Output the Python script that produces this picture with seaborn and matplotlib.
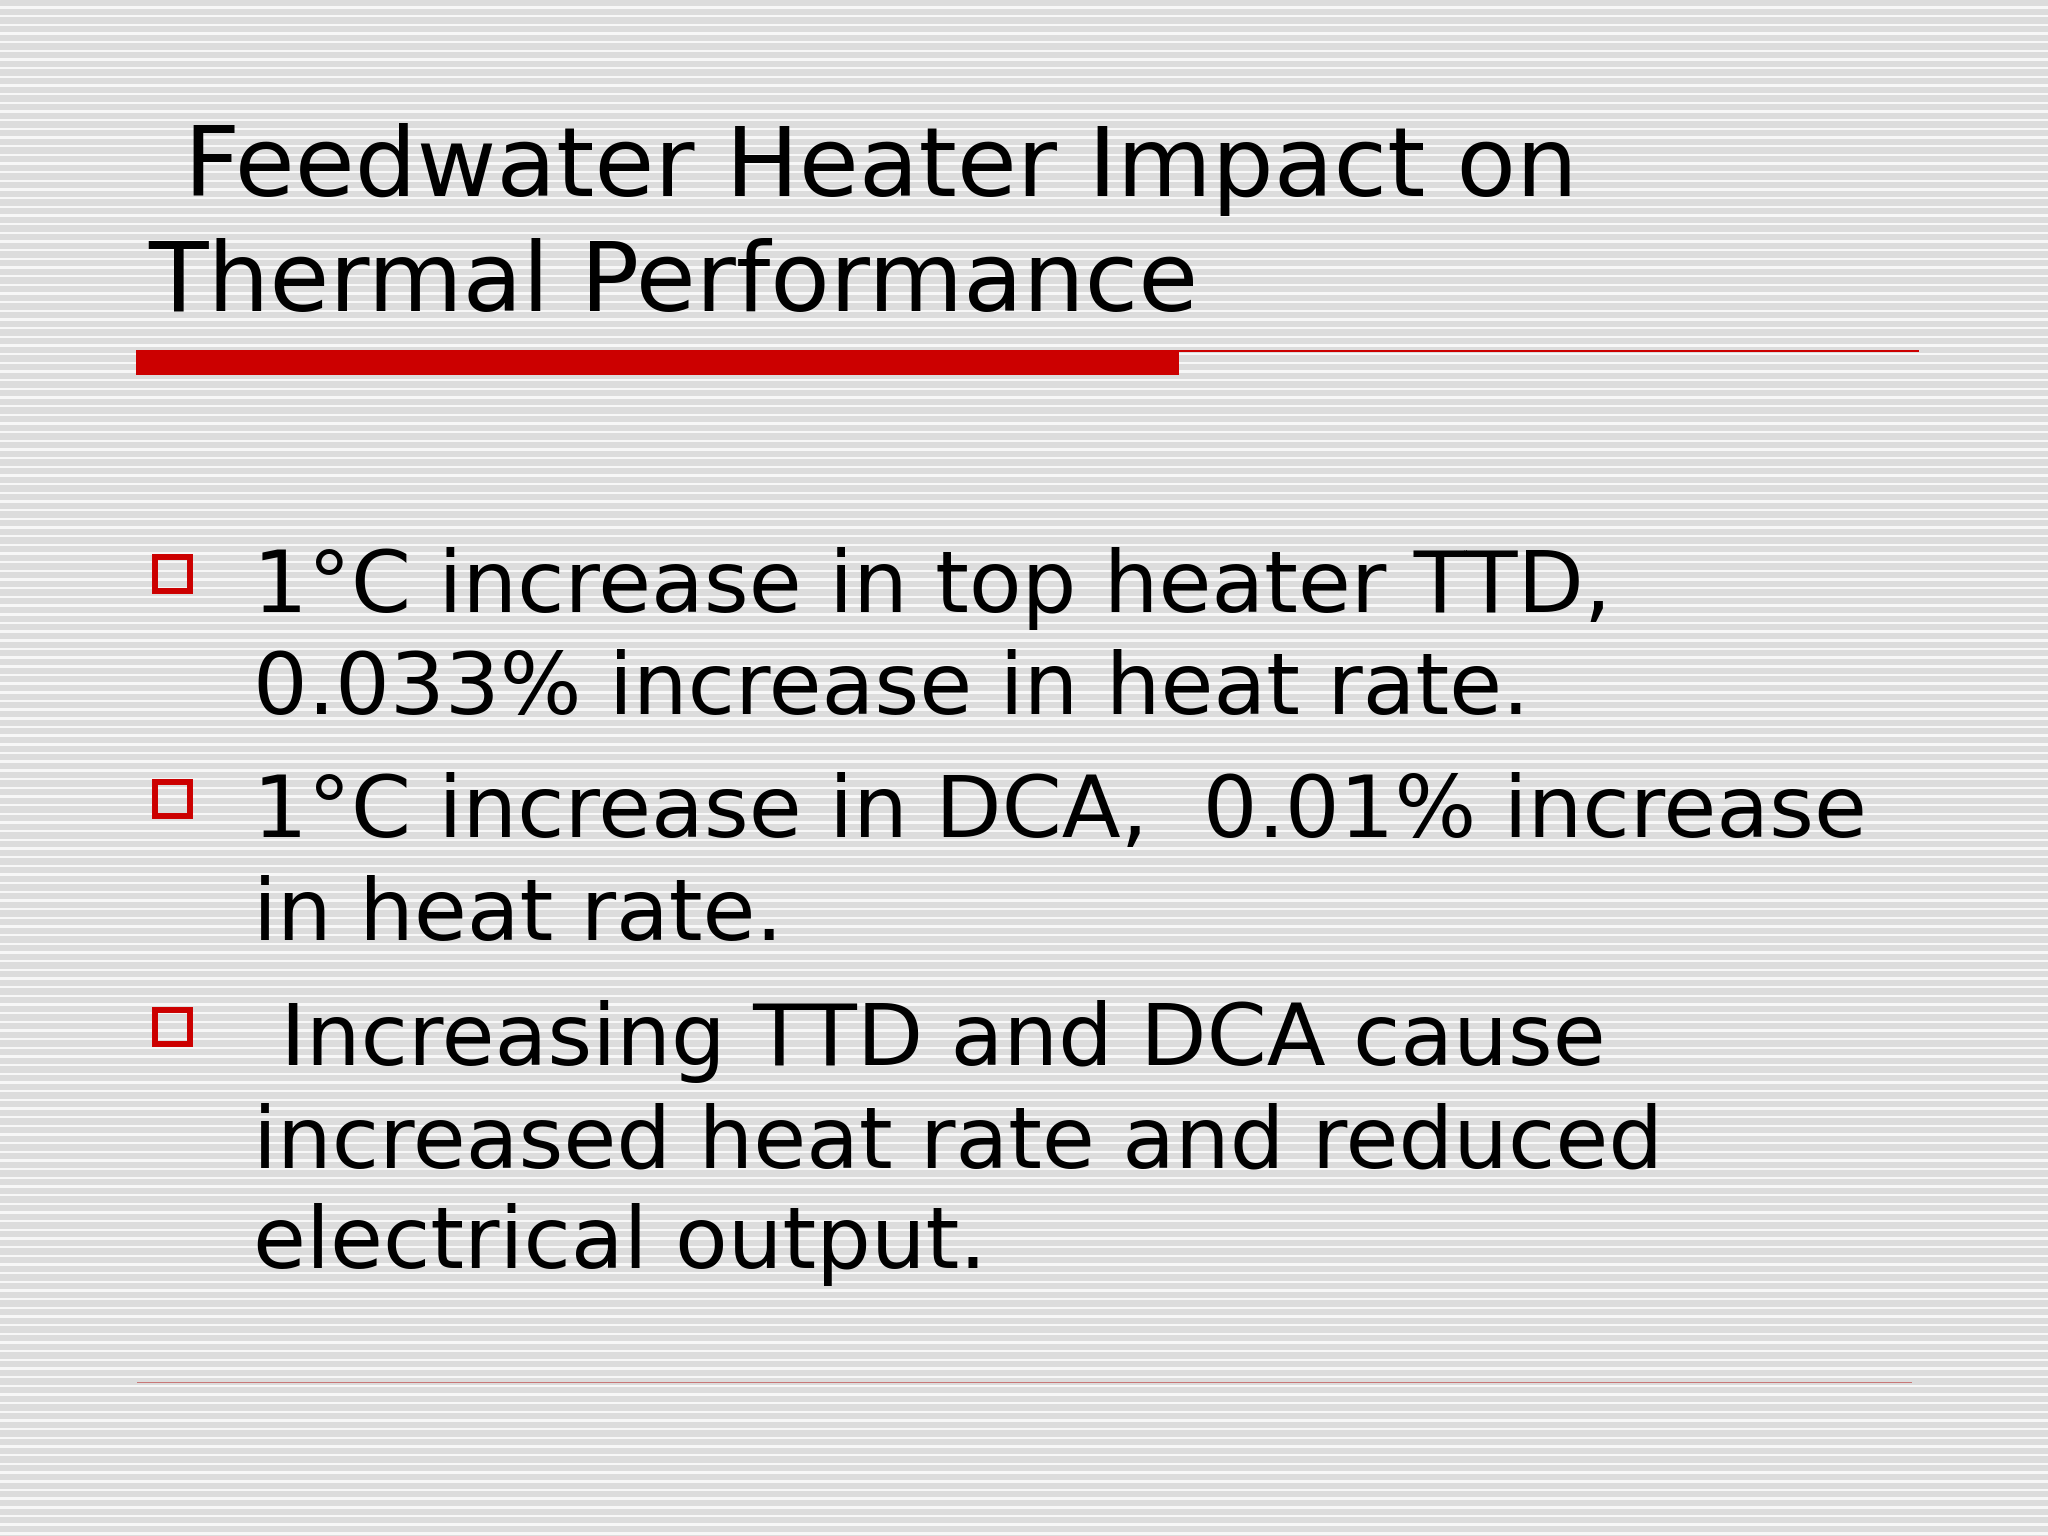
import numpy as np
import seaborn as sns
import matplotlib.pyplot as plt
from matplotlib.patches import Rectangle

# slide content
title_lines = [" Feedwater Heater Impact on", "Thermal Performance"]
title_x = [153, 148]
title_baselines = [196, 311]

bullets = [
    ["1°C increase in top heater TTD,", "0.033% increase in heat rate."],
    ["1°C increase in DCA,  0.01% increase", "in heat rate."],
    [" Increasing TTD and DCA cause", "increased heat rate and reduced", "electrical output."],
]
bullet_baselines = [[612, 714], [837, 940], [1065, 1167, 1268]]

RED = "#CC0000"
W, H = 2048, 1536

sns.set_theme(style="white")
plt.rcParams["font.family"] = ["DejaVu Sans"]

fig = plt.figure(figsize=(W / 100, H / 100), dpi=100)
ax = fig.add_axes([0, 0, 1, 1])
ax.set_xlim(0, W)
ax.set_ylim(H, 0)
ax.axis("off")

# striped background
ax.add_patch(Rectangle((0, 0), W, H, color="#DCDCDC", zorder=0))
for y in np.arange(6.2, H, 8.67):
    ax.add_patch(Rectangle((0, y), W, 2.4, color="#F7F7F7", lw=0, zorder=0.5))

# title
for line, x, yb in zip(title_lines, title_x, title_baselines):
    ax.text(x, yb, line, fontsize=70.2, color="black", va="baseline", ha="left", zorder=3)

# rules under title and at bottom
ax.add_patch(Rectangle((136, 350), 1919 - 136, 2, color=RED, lw=0, zorder=2))
ax.add_patch(Rectangle((136, 350), 1179 - 136, 25, color=RED, lw=0, zorder=2))
ax.add_patch(Rectangle((137, 1381.5), 1912 - 137, 1.3, color="#C87878", lw=0, zorder=2))

# bullet text and boxes
for lines, bls in zip(bullets, bullet_baselines):
    top = bls[0] - 58
    ax.add_patch(Rectangle((155, top + 3), 35, 34, fill=False, edgecolor=RED, lw=4.3, zorder=3))
    for line, yb in zip(lines, bls):
        ax.text(253, yb, line, fontsize=62, color="black", va="baseline", ha="left", zorder=3)

fig.savefig("out.png", dpi=100)
